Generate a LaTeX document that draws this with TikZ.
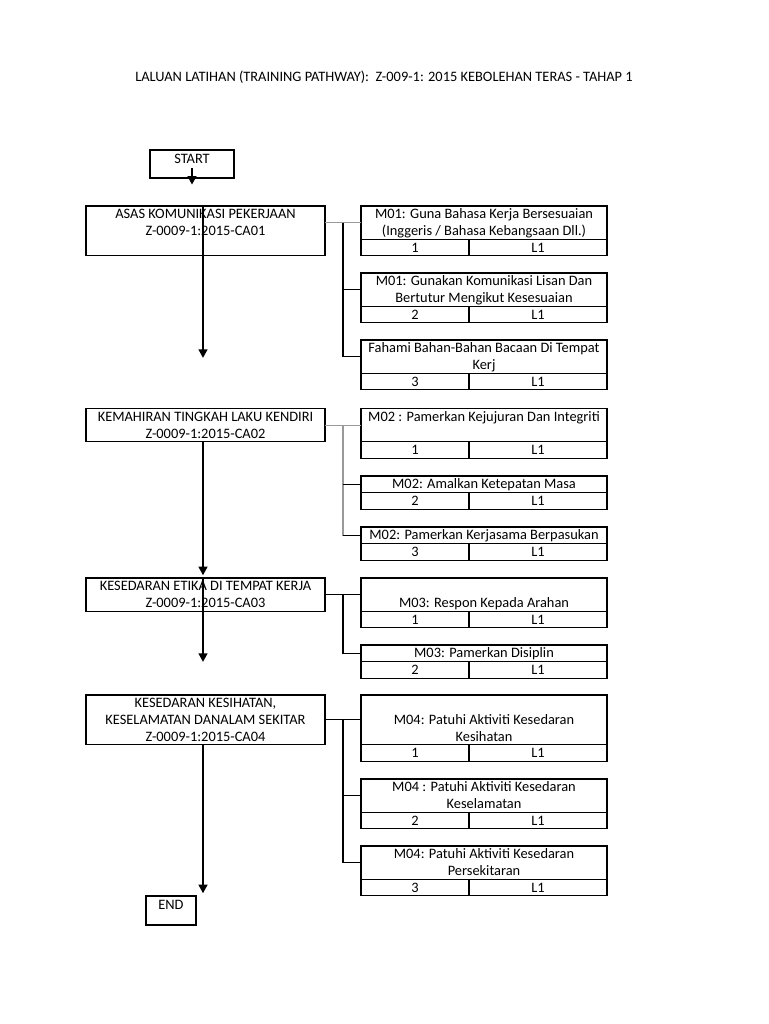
\documentclass[tikz,border=0pt]{standalone}
\usepackage{fontspec}
\setmainfont{Carlito}
\usetikzlibrary{arrows.meta,positioning,calc}
\newcommand\slotstrut{\rule[-2.75pt]{0pt}{12.45pt}}

\begin{document}
\begin{tikzpicture}[x=0.75pt,y=-0.75pt,
  every node/.style={font=\fontsize{10.8}{12.45}\selectfont},
  flowbox/.style={draw,line width=0.8pt,inner sep=0pt,outer sep=0pt,align=flush center,anchor=north west,
    execute at begin node=\slotstrut,execute at end node=\slotstrut},
  cabox/.style={flowbox,text width=179.25pt},
  modbox/.style={flowbox,text width=184.5pt},
  numcell/.style={flowbox,text width=81pt},
  levcell/.style={flowbox,text width=103.5pt},
  endbox/.style={draw,line width=0.8pt,inner sep=0pt,outer sep=0pt,anchor=north west,text height=10pt},
  spine/.style={line width=2.1pt,-{Triangle[length=6.5pt,width=6.5pt]}},
  gline/.style={draw=black!40,line width=0.8pt},
  bline/.style={draw=black,line width=0.8pt}]
\useasboundingbox (0,0) rectangle (768,1024);

% judul
\node (title) at (384,77) {LALUAN LATIHAN (TRAINING PATHWAY):\ \ Z-009-1: 2015 KEBOLEHAN TERAS - TAHAP 1};

% mula / tamat
\node[endbox,minimum width=63pt,text depth=11pt] (start) at (150,150) {START};
\node[endbox,minimum width=37.5pt,text depth=11.75pt] (end) at (146,896) {END};

% unit kompetensi teras
\node[cabox] (ca1) at (86,206) {ASAS KOMUNIKASI PEKERJAAN\\Z-0009-1:2015-CA01\\};
\node[cabox] (ca2) at (86,408.5) {KEMAHIRAN TINGKAH LAKU KENDIRI\\Z-0009-1:2015-CA02};
\node[cabox] (ca3) at (86,578) {KESEDARAN ETIKA DI TEMPAT KERJA\\Z-0009-1:2015-CA03};
\node[cabox] (ca4) at (86,695) {KESEDARAN KESIHATAN,\\KESELAMATAN DANALAM SEKITAR\\Z-0009-1:2015-CA04};

% modul CA01
\node[modbox] (m11) at (361,206) {M01: Guna Bahasa Kerja Bersesuaian\\(Inggeris / Bahasa Kebangsaan Dll.)};
\node[numcell,below right=0pt of m11.south west] (m11a) {1};
\node[levcell,right=0pt of m11a] (m11b) {L1};
\node[modbox] (m12) at (361,273) {M01: Gunakan Komunikasi Lisan Dan\\Bertutur Mengikut Kesesuaian};
\node[numcell,below right=0pt of m12.south west] (m12a) {2};
\node[levcell,right=0pt of m12a] (m12b) {L1};
\node[modbox] (m13) at (361,340) {Fahami Bahan-Bahan Bacaan Di Tempat\\Kerj};
\node[numcell,below right=0pt of m13.south west] (m13a) {3};
\node[levcell,right=0pt of m13a] (m13b) {L1};

% modul CA02
\node[modbox] (m21) at (361,408.5) {M02 : Pamerkan Kejujuran Dan Integriti\\};
\node[numcell,below right=0pt of m21.south west] (m21a) {1};
\node[levcell,right=0pt of m21a] (m21b) {L1};
\node[modbox] (m22) at (361,476) {M02: Amalkan Ketepatan Masa};
\node[numcell,below right=0pt of m22.south west] (m22a) {2};
\node[levcell,right=0pt of m22a] (m22b) {L1};
\node[modbox] (m23) at (361,527) {M02: Pamerkan Kerjasama Berpasukan};
\node[numcell,below right=0pt of m23.south west] (m23a) {3};
\node[levcell,right=0pt of m23a] (m23b) {L1};

% modul CA03
\node[modbox] (m31) at (361,578) {\mbox{}\\M03: Respon Kepada Arahan};
\node[numcell,below right=0pt of m31.south west] (m31a) {1};
\node[levcell,right=0pt of m31a] (m31b) {L1};
\node[modbox] (m32) at (361,645) {M03: Pamerkan Disiplin};
\node[numcell,below right=0pt of m32.south west] (m32a) {2};
\node[levcell,right=0pt of m32a] (m32b) {L1};

% modul CA04
\node[modbox] (m41) at (361,695) {\mbox{}\\M04: Patuhi Aktiviti Kesedaran\\Kesihatan};
\node[numcell,below right=0pt of m41.south west] (m41a) {1};
\node[levcell,right=0pt of m41a] (m41b) {L1};
\node[modbox] (m42) at (361,779) {M04 : Patuhi Aktiviti Kesedaran\\Keselamatan};
\node[numcell,below right=0pt of m42.south west] (m42a) {2};
\node[levcell,right=0pt of m42a] (m42b) {L1};
\node[modbox] (m43) at (361,846) {M04: Patuhi Aktiviti Kesedaran\\Persekitaran};
\node[numcell,below right=0pt of m43.south west] (m43a) {3};
\node[levcell,right=0pt of m43a] (m43b) {L1};

% penyambung
\coordinate (j1) at ($(ca1.east |- m11.west)!.5!(m11.west)$);
\coordinate (j2) at ($(ca2.east |- m21.west)!.5!(m21.west)$);
\coordinate (j3) at ($(ca3.east |- m31.west)!.5!(m31.west)$);
\coordinate (j4) at ($(ca4.east |- m41.west)!.5!(m41.west)$);
\draw[gline] (ca1.east |- m11.west) -- (m11.west);
\draw[bline] (j1) |- (m12.west);
\draw[bline] (j1) |- (m13.west);
\draw[gline] (ca2.east |- m21.west) -- (m21.west);
\draw[gline] (j2) |- (m23.west);
\draw[bline] (j2 |- m22.west) -- (m22.west);
\draw[bline] (j2 |- m23.west) -- (m23.west);
\draw[bline] (ca3.east |- m31.west) -- (m31.west);
\draw[bline] (j3) |- (m32.west);
\draw[bline] (ca4.east |- m41.west) -- (m41.west);
\draw[bline] (j4) |- (m42.west);
\draw[bline] (j4) |- (m43.west);

% aliran utama
\coordinate (t1) at (203,358);
\coordinate (t3) at (203,662);
\draw[spine] ([yshift=7.5pt]start.south) -- ([yshift=-5pt]start.south);
\draw[spine] (t1 |- ca1.north) -- (t1);
\draw[spine] (t1 |- ca2.south) -- ([yshift=2pt]t1 |- ca3.north);
\draw[spine] (t1 |- ca3.north) -- (t3);
\draw[spine] (t1 |- ca4.south) -- ([yshift=2pt]t1 |- end.north);
\end{tikzpicture}
\end{document}
